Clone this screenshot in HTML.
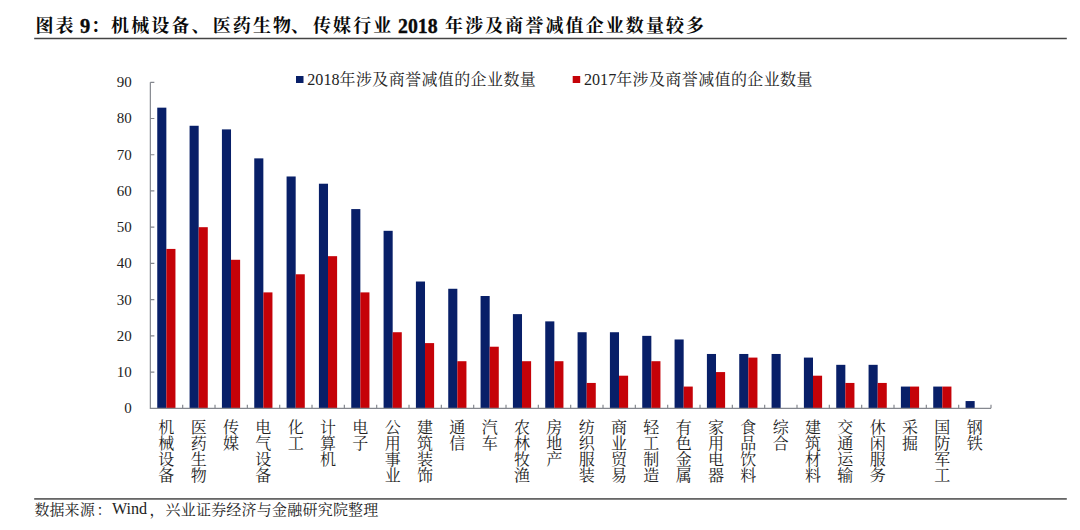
<!DOCTYPE html>
<html lang="zh-CN">
<head>
<meta charset="utf-8">
<title>图表 9</title>
<style>
html,body{margin:0;padding:0;background:#fff;}
body{width:1080px;height:530px;overflow:hidden;position:relative;font-family:"Liberation Sans",sans-serif;}
svg{position:absolute;left:0;top:0;display:block;}
.t{position:absolute;margin:0;color:transparent;white-space:nowrap;overflow:hidden;font-family:"Liberation Serif",serif;}
.t ul{margin:0;padding:0;list-style:none;}
</style>
</head>
<body>
<svg width="1080" height="530" viewBox="0 0 1080 530" aria-hidden="true">
<rect x="34.20" y="37.75" width="1032.60" height="1.50" fill="#444444"/>
<rect x="34.20" y="498.00" width="1032.60" height="1.80" fill="#666666"/>
<g fill="#0a0a0a" font-family="'Liberation Serif', 'Noto Serif CJK SC', serif" font-weight="bold" font-size="18">
<text x="35.55" y="32.00" textLength="37.95" lengthAdjust="spacing">图表</text>
<text x="91.00" y="32.00">：</text>
<text x="111.10" y="32.00" textLength="78.37" lengthAdjust="spacing">机械设备</text>
<text x="191.50" y="32.00">、</text>
<text x="212.65" y="32.00" textLength="78.37" lengthAdjust="spacing">医药生物</text>
<text x="291.00" y="32.00">、</text>
<text x="313.00" y="32.00" textLength="78.37" lengthAdjust="spacing">传媒行业</text>
<text x="445.06" y="32.00" textLength="259.06" lengthAdjust="spacing">年涉及商誉减值企业数量较多</text>
</g>
<text x="79.90" y="32.50" font-family="'Liberation Serif', serif" font-weight="bold" font-size="20.5" fill="#0a0a0a" stroke="#0a0a0a" stroke-width="0.35">9</text>
<text x="398.00" y="32.50" font-family="'Liberation Serif', serif" font-weight="bold" font-size="20.5" fill="#0a0a0a" stroke="#0a0a0a" stroke-width="0.35" textLength="39.6" lengthAdjust="spacingAndGlyphs">2018</text>
<g>
<rect x="157.25" y="107.66" width="9.10" height="300.64" fill="#081F68"/>
<rect x="166.35" y="248.92" width="9.10" height="159.38" fill="#C50208"/>
<rect x="189.58" y="125.77" width="9.10" height="282.53" fill="#081F68"/>
<rect x="198.68" y="227.19" width="9.10" height="181.11" fill="#C50208"/>
<rect x="221.92" y="129.39" width="9.10" height="278.91" fill="#081F68"/>
<rect x="231.02" y="259.79" width="9.10" height="148.51" fill="#C50208"/>
<rect x="254.25" y="158.37" width="9.10" height="249.93" fill="#081F68"/>
<rect x="263.35" y="292.39" width="9.10" height="115.91" fill="#C50208"/>
<rect x="286.58" y="176.48" width="9.10" height="231.82" fill="#081F68"/>
<rect x="295.68" y="274.28" width="9.10" height="134.02" fill="#C50208"/>
<rect x="318.91" y="183.72" width="9.10" height="224.58" fill="#081F68"/>
<rect x="328.01" y="256.17" width="9.10" height="152.13" fill="#C50208"/>
<rect x="351.25" y="209.08" width="9.10" height="199.22" fill="#081F68"/>
<rect x="360.35" y="292.39" width="9.10" height="115.91" fill="#C50208"/>
<rect x="383.58" y="230.81" width="9.10" height="177.49" fill="#081F68"/>
<rect x="392.68" y="332.23" width="9.10" height="76.07" fill="#C50208"/>
<rect x="415.91" y="281.52" width="9.10" height="126.78" fill="#081F68"/>
<rect x="425.01" y="343.10" width="9.10" height="65.20" fill="#C50208"/>
<rect x="448.24" y="288.77" width="9.10" height="119.53" fill="#081F68"/>
<rect x="457.34" y="361.21" width="9.10" height="47.09" fill="#C50208"/>
<rect x="480.58" y="296.01" width="9.10" height="112.29" fill="#081F68"/>
<rect x="489.68" y="346.72" width="9.10" height="61.58" fill="#C50208"/>
<rect x="512.91" y="314.12" width="9.10" height="94.18" fill="#081F68"/>
<rect x="522.01" y="361.21" width="9.10" height="47.09" fill="#C50208"/>
<rect x="545.24" y="321.37" width="9.10" height="86.93" fill="#081F68"/>
<rect x="554.34" y="361.21" width="9.10" height="47.09" fill="#C50208"/>
<rect x="577.57" y="332.23" width="9.10" height="76.07" fill="#081F68"/>
<rect x="586.67" y="382.94" width="9.10" height="25.36" fill="#C50208"/>
<rect x="609.91" y="332.23" width="9.10" height="76.07" fill="#081F68"/>
<rect x="619.01" y="375.70" width="9.10" height="32.60" fill="#C50208"/>
<rect x="642.24" y="335.86" width="9.10" height="72.44" fill="#081F68"/>
<rect x="651.34" y="361.21" width="9.10" height="47.09" fill="#C50208"/>
<rect x="674.57" y="339.48" width="9.10" height="68.82" fill="#081F68"/>
<rect x="683.67" y="386.57" width="9.10" height="21.73" fill="#C50208"/>
<rect x="706.91" y="353.97" width="9.10" height="54.33" fill="#081F68"/>
<rect x="716.01" y="372.08" width="9.10" height="36.22" fill="#C50208"/>
<rect x="739.24" y="353.97" width="9.10" height="54.33" fill="#081F68"/>
<rect x="748.34" y="357.59" width="9.10" height="50.71" fill="#C50208"/>
<rect x="771.57" y="353.97" width="9.10" height="54.33" fill="#081F68"/>
<rect x="803.90" y="357.59" width="9.10" height="50.71" fill="#081F68"/>
<rect x="813.00" y="375.70" width="9.10" height="32.60" fill="#C50208"/>
<rect x="836.24" y="364.83" width="9.10" height="43.47" fill="#081F68"/>
<rect x="845.34" y="382.94" width="9.10" height="25.36" fill="#C50208"/>
<rect x="868.57" y="364.83" width="9.10" height="43.47" fill="#081F68"/>
<rect x="877.67" y="382.94" width="9.10" height="25.36" fill="#C50208"/>
<rect x="900.90" y="386.57" width="9.10" height="21.73" fill="#081F68"/>
<rect x="910.00" y="386.57" width="9.10" height="21.73" fill="#C50208"/>
<rect x="933.23" y="386.57" width="9.10" height="21.73" fill="#081F68"/>
<rect x="942.33" y="386.57" width="9.10" height="21.73" fill="#C50208"/>
<rect x="965.57" y="401.06" width="9.10" height="7.24" fill="#081F68"/>
</g>
<path d="M150.35 82.30V408.30H991.00M150.35 372.08h4.00M150.35 335.86h4.00M150.35 299.63h4.00M150.35 263.41h4.00M150.35 227.19h4.00M150.35 190.97h4.00M150.35 154.74h4.00M150.35 118.52h4.00M150.35 82.30h4.00M182.68 408.30v-3.50M215.02 408.30v-3.50M247.35 408.30v-3.50M279.68 408.30v-3.50M312.01 408.30v-3.50M344.35 408.30v-3.50M376.68 408.30v-3.50M409.01 408.30v-3.50M441.34 408.30v-3.50M473.68 408.30v-3.50M506.01 408.30v-3.50M538.34 408.30v-3.50M570.67 408.30v-3.50M603.01 408.30v-3.50M635.34 408.30v-3.50M667.67 408.30v-3.50M700.01 408.30v-3.50M732.34 408.30v-3.50M764.67 408.30v-3.50M797.00 408.30v-3.50M829.34 408.30v-3.50M861.67 408.30v-3.50M894.00 408.30v-3.50M926.33 408.30v-3.50M958.67 408.30v-3.50M991.00 408.30v-3.50" fill="none" stroke="#85888f" stroke-width="1.2"/>
<g font-family="'Liberation Serif', serif" font-size="15" fill="#222222" text-anchor="end">
<text x="131.80" y="413.20">0</text>
<text x="131.80" y="376.98">10</text>
<text x="131.80" y="340.76">20</text>
<text x="131.80" y="304.53">30</text>
<text x="131.80" y="268.31">40</text>
<text x="131.80" y="232.09">50</text>
<text x="131.80" y="195.87">60</text>
<text x="131.80" y="159.64">70</text>
<text x="131.80" y="123.42">80</text>
<text x="131.80" y="87.20">90</text>
</g>
<g fill="#222222" font-family="'Liberation Serif', 'Noto Serif CJK SC', serif" font-size="16">
<rect x="296.00" y="76.00" width="7.50" height="7.00" fill="#081F68" stroke="none"/>
<text x="307.30" y="84.80" font-family="'Liberation Serif', serif" font-size="16" stroke="none" textLength="32.2" lengthAdjust="spacingAndGlyphs">2018</text>
<text x="339.50" y="85.30" textLength="196.3" lengthAdjust="spacing">年涉及商誉减值的企业数量</text>
<rect x="572.70" y="76.00" width="7.50" height="7.00" fill="#C50208" stroke="none"/>
<text x="584.00" y="84.80" font-family="'Liberation Serif', serif" font-size="16" stroke="none" textLength="32.2" lengthAdjust="spacingAndGlyphs">2017</text>
<text x="616.20" y="85.30" textLength="196.3" lengthAdjust="spacing">年涉及商誉减值的企业数量</text>
</g>
<g fill="#222222" font-family="'Liberation Serif', 'Noto Serif CJK SC', serif" font-size="16">
<text x="158.37" y="433"><tspan x="158.37" y="433">机</tspan><tspan x="158.37" y="449">械</tspan><tspan x="158.37" y="465">设</tspan><tspan x="158.37" y="481">备</tspan></text>
<text x="190.70" y="433"><tspan x="190.70" y="433">医</tspan><tspan x="190.70" y="449">药</tspan><tspan x="190.70" y="465">生</tspan><tspan x="190.70" y="481">物</tspan></text>
<text x="223.03" y="433"><tspan x="223.03" y="433">传</tspan><tspan x="223.03" y="449">媒</tspan></text>
<text x="255.36" y="433"><tspan x="255.36" y="433">电</tspan><tspan x="255.36" y="449">气</tspan><tspan x="255.36" y="465">设</tspan><tspan x="255.36" y="481">备</tspan></text>
<text x="287.70" y="433"><tspan x="287.70" y="433">化</tspan><tspan x="287.70" y="449">工</tspan></text>
<text x="320.03" y="433"><tspan x="320.03" y="433">计</tspan><tspan x="320.03" y="449">算</tspan><tspan x="320.03" y="465">机</tspan></text>
<text x="352.36" y="433"><tspan x="352.36" y="433">电</tspan><tspan x="352.36" y="449">子</tspan></text>
<text x="384.70" y="433"><tspan x="384.70" y="433">公</tspan><tspan x="384.70" y="449">用</tspan><tspan x="384.70" y="465">事</tspan><tspan x="384.70" y="481">业</tspan></text>
<text x="417.03" y="433"><tspan x="417.03" y="433">建</tspan><tspan x="417.03" y="449">筑</tspan><tspan x="417.03" y="465">装</tspan><tspan x="417.03" y="481">饰</tspan></text>
<text x="449.36" y="433"><tspan x="449.36" y="433">通</tspan><tspan x="449.36" y="449">信</tspan></text>
<text x="481.69" y="433"><tspan x="481.69" y="433">汽</tspan><tspan x="481.69" y="449">车</tspan></text>
<text x="514.03" y="433"><tspan x="514.03" y="433">农</tspan><tspan x="514.03" y="449">林</tspan><tspan x="514.03" y="465">牧</tspan><tspan x="514.03" y="481">渔</tspan></text>
<text x="546.36" y="433"><tspan x="546.36" y="433">房</tspan><tspan x="546.36" y="449">地</tspan><tspan x="546.36" y="465">产</tspan></text>
<text x="578.69" y="433"><tspan x="578.69" y="433">纺</tspan><tspan x="578.69" y="449">织</tspan><tspan x="578.69" y="465">服</tspan><tspan x="578.69" y="481">装</tspan></text>
<text x="611.02" y="433"><tspan x="611.02" y="433">商</tspan><tspan x="611.02" y="449">业</tspan><tspan x="611.02" y="465">贸</tspan><tspan x="611.02" y="481">易</tspan></text>
<text x="643.36" y="433"><tspan x="643.36" y="433">轻</tspan><tspan x="643.36" y="449">工</tspan><tspan x="643.36" y="465">制</tspan><tspan x="643.36" y="481">造</tspan></text>
<text x="675.69" y="433"><tspan x="675.69" y="433">有</tspan><tspan x="675.69" y="449">色</tspan><tspan x="675.69" y="465">金</tspan><tspan x="675.69" y="481">属</tspan></text>
<text x="708.02" y="433"><tspan x="708.02" y="433">家</tspan><tspan x="708.02" y="449">用</tspan><tspan x="708.02" y="465">电</tspan><tspan x="708.02" y="481">器</tspan></text>
<text x="740.35" y="433"><tspan x="740.35" y="433">食</tspan><tspan x="740.35" y="449">品</tspan><tspan x="740.35" y="465">饮</tspan><tspan x="740.35" y="481">料</tspan></text>
<text x="772.69" y="433"><tspan x="772.69" y="433">综</tspan><tspan x="772.69" y="449">合</tspan></text>
<text x="805.02" y="433"><tspan x="805.02" y="433">建</tspan><tspan x="805.02" y="449">筑</tspan><tspan x="805.02" y="465">材</tspan><tspan x="805.02" y="481">料</tspan></text>
<text x="837.35" y="433"><tspan x="837.35" y="433">交</tspan><tspan x="837.35" y="449">通</tspan><tspan x="837.35" y="465">运</tspan><tspan x="837.35" y="481">输</tspan></text>
<text x="869.69" y="433"><tspan x="869.69" y="433">休</tspan><tspan x="869.69" y="449">闲</tspan><tspan x="869.69" y="465">服</tspan><tspan x="869.69" y="481">务</tspan></text>
<text x="902.02" y="433"><tspan x="902.02" y="433">采</tspan><tspan x="902.02" y="449">掘</tspan></text>
<text x="934.35" y="433"><tspan x="934.35" y="433">国</tspan><tspan x="934.35" y="449">防</tspan><tspan x="934.35" y="465">军</tspan><tspan x="934.35" y="481">工</tspan></text>
<text x="966.68" y="433"><tspan x="966.68" y="433">钢</tspan><tspan x="966.68" y="449">铁</tspan></text>
</g>
<g fill="#222222" font-family="'Liberation Serif', 'Noto Serif CJK SC', serif" font-size="15">
<text x="34.40" y="514.60" textLength="60.35" lengthAdjust="spacing">数据来源</text>
<text x="96.50" y="514.60">：</text>
<text x="149.50" y="514.60">，</text>
<text x="165.50" y="514.60" textLength="212.85" lengthAdjust="spacing">兴业证券经济与金融研究院整理</text>
</g>
<text x="112.00" y="514.40" font-family="'Liberation Serif', serif" font-size="15.75" fill="#222222" textLength="35.2" lengthAdjust="spacingAndGlyphs">Wind</text>
</svg>
<h1 class="t" style="left:35px;top:16px;width:680px;height:20px;font-size:18px;line-height:20px;">图表 9：机械设备、医药生物、传媒行业 2018 年涉及商誉减值企业数量较多</h1>
<div class="t" style="left:296px;top:72px;width:520px;height:16px;font-size:14px;line-height:16px;">■2018年涉及商誉减值的企业数量 ■2017年涉及商誉减值的企业数量</div>
<div class="t" style="left:150px;top:100px;width:840px;height:300px;font-size:10px;line-height:11px;"><ul><li>机械设备: 83 / 44</li><li>医药生物: 78 / 50</li><li>传媒: 77 / 41</li><li>电气设备: 69 / 32</li><li>化工: 64 / 37</li><li>计算机: 62 / 42</li><li>电子: 55 / 32</li><li>公用事业: 49 / 21</li><li>建筑装饰: 35 / 18</li><li>通信: 33 / 13</li><li>汽车: 31 / 17</li><li>农林牧渔: 26 / 13</li><li>房地产: 24 / 13</li><li>纺织服装: 21 / 7</li><li>商业贸易: 21 / 9</li><li>轻工制造: 20 / 13</li><li>有色金属: 19 / 6</li><li>家用电器: 15 / 10</li><li>食品饮料: 15 / 14</li><li>综合: 15 / 0</li><li>建筑材料: 14 / 9</li><li>交通运输: 12 / 7</li><li>休闲服务: 12 / 7</li><li>采掘: 6 / 6</li><li>国防军工: 6 / 6</li><li>钢铁: 2 / 0</li></ul></div>
<p class="t" style="left:35px;top:501px;width:350px;height:18px;font-size:14px;line-height:18px;">数据来源：Wind，兴业证券经济与金融研究院整理</p>
</body>
</html>
